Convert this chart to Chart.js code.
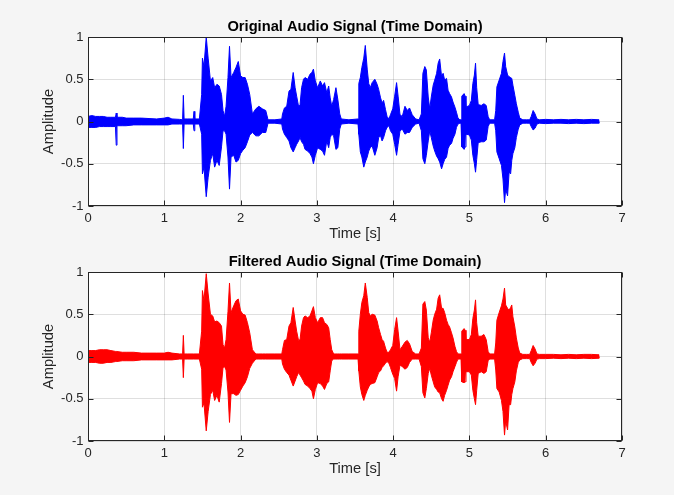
<!DOCTYPE html>
<html><head><meta charset="utf-8">
<script src="https://cdn.jsdelivr.net/npm/chart.js@4.4.1/dist/chart.umd.min.js"></script>
<style>
html,body{margin:0;padding:0;background:#f5f5f5;width:674px;height:495px;overflow:hidden}
canvas{position:absolute;left:0}
#c1{top:0}
#c2{top:235px}
</style></head><body>
<canvas id="c1" width="674" height="247"></canvas>
<canvas id="c2" width="674" height="247"></canvas>
<script>
// time points (s) at which the waveform envelope was read
const timeS = [
 0,0.05,0.1,0.15,0.2,0.25,0.3,0.36,0.37,0.38,0.45,0.5,0.6,0.7,0.8,0.9,1.0,1.05,1.1,1.2,1.24,1.25,1.26,1.3,1.38,1.39,1.40,1.46,
 1.49,1.50,1.52,1.55,1.575,1.605,1.635,1.66,1.69,1.72,1.75,1.77,1.79,1.81,1.835,1.855,1.875,1.91,1.94,1.97,2.0,2.03,2.06,2.09,2.12,2.155,2.2,2.24,2.285,2.33,2.36,
 2.45,2.54,2.55,2.575,2.605,2.635,2.66,2.69,2.715,2.735,2.76,2.78,2.80,2.825,2.845,2.88,2.91,2.935,2.955,2.98,3.01,3.045,3.075,3.10,3.13,3.155,3.175,3.195,3.22,3.25,3.275,3.30,3.32,
 3.42,3.54,3.55,3.57,3.59,3.615,3.635,3.66,3.68,3.70,3.725,3.76,3.79,3.81,3.835,3.855,3.875,3.90,3.92,3.945,3.965,3.995,4.02,4.045,4.065,4.09,4.12,4.155,4.185,4.215,4.25,4.295,4.34,
 4.37,4.39,4.415,4.435,4.46,4.48,4.50,4.525,4.545,4.57,4.59,4.61,4.635,4.655,4.675,4.70,4.72,4.74,4.765,4.785,4.81,4.83,4.85,4.875,
 4.89,4.90,4.93,4.945,4.955,5.0,5.025,5.045,5.065,5.08,5.095,5.115,5.155,5.19,5.22,5.245,5.265,
 5.33,5.345,5.36,5.39,5.42,5.44,5.46,5.475,5.50,5.52,5.54,5.555,5.57,5.595,5.615,5.64,5.66,
 5.70,5.75,5.79,5.81,5.835,5.86,5.885,5.92,6.0,6.1,6.2,6.3,6.4,6.5,6.6,6.7,6.71
];
// original signal: upper / lower envelope
const origUpper = [
 0.06,0.07,0.06,0.06,0.06,0.05,0.05,0.05,0.10,0.05,0.05,0.04,0.04,0.04,0.035,0.03,0.04,0.05,0.03,0.025,0.02,0.31,0.03,0.03,0.03,0.12,0.03,0.03,
 0.32,0.75,0.65,1.0,0.75,0.48,0.52,0.40,0.44,0.42,0.32,0.13,0.06,0.18,0.52,0.89,0.52,0.58,0.64,0.71,0.54,0.52,0.52,0.44,0.32,0.09,0.15,0.18,0.15,0.13,0.02,
 0.02,0.03,0.09,0.16,0.18,0.36,0.38,0.58,0.40,0.30,0.18,0.20,0.40,0.50,0.52,0.50,0.56,0.58,0.62,0.48,0.40,0.48,0.42,0.46,0.34,0.42,0.28,0.18,0.26,0.40,0.26,0.09,0.03,
 0.02,0.03,0.45,0.52,0.64,0.75,0.90,0.62,0.45,0.40,0.46,0.50,0.44,0.38,0.28,0.22,0.25,0.14,0.06,0.03,0.08,0.15,0.30,0.46,0.30,0.08,0.06,0.18,0.13,0.16,0.08,0.03,0.02,
 0.09,0.57,0.65,0.61,0.29,0.15,0.29,0.43,0.49,0.57,0.69,0.74,0.53,0.57,0.49,0.51,0.37,0.33,0.29,0.23,0.17,0.11,0.04,0.02,
 0.02,0.30,0.33,0.30,0.17,0.19,0.25,0.45,0.55,0.69,0.40,0.20,0.19,0.21,0.19,0.06,0.02,
 0.02,0.13,0.41,0.49,0.57,0.71,0.81,0.65,0.55,0.53,0.52,0.51,0.43,0.31,0.21,0.11,0.04,
 0.02,0.02,0.02,0.06,0.13,0.09,0.03,0.02,0.025,0.02,0.025,0.02,0.025,0.02,0.025,0.02,0.02
];
const origLower = [
 -0.07,-0.07,-0.07,-0.06,-0.06,-0.06,-0.06,-0.06,-0.28,-0.05,-0.05,-0.05,-0.04,-0.04,-0.04,-0.04,-0.04,-0.04,-0.03,-0.03,-0.03,-0.32,-0.03,-0.03,-0.03,-0.11,-0.03,-0.03,
 -0.15,-0.62,-0.54,-0.89,-0.66,-0.46,-0.38,-0.54,-0.46,-0.52,-0.30,-0.11,-0.11,-0.15,-0.42,-0.80,-0.42,-0.40,-0.48,-0.46,-0.38,-0.34,-0.31,-0.24,-0.16,-0.13,-0.17,-0.17,-0.13,-0.13,-0.02,
 -0.02,-0.03,-0.09,-0.15,-0.19,-0.23,-0.31,-0.36,-0.31,-0.27,-0.23,-0.19,-0.24,-0.27,-0.33,-0.35,-0.38,-0.42,-0.50,-0.40,-0.31,-0.33,-0.35,-0.40,-0.23,-0.31,-0.19,-0.15,-0.17,-0.33,-0.31,-0.09,-0.03,
 -0.02,-0.03,-0.15,-0.36,-0.42,-0.54,-0.48,-0.42,-0.35,-0.31,-0.29,-0.40,-0.31,-0.19,-0.17,-0.23,-0.19,-0.11,-0.07,-0.05,-0.11,-0.15,-0.27,-0.40,-0.27,-0.11,-0.09,-0.15,-0.13,-0.13,-0.07,-0.03,-0.02,
 -0.11,-0.44,-0.50,-0.40,-0.23,-0.11,-0.19,-0.29,-0.35,-0.41,-0.44,-0.48,-0.56,-0.50,-0.45,-0.42,-0.32,-0.28,-0.26,-0.20,-0.15,-0.07,-0.03,-0.02,
 -0.02,-0.30,-0.33,-0.30,-0.15,-0.16,-0.22,-0.40,-0.50,-0.60,-0.45,-0.25,-0.24,-0.24,-0.22,-0.06,-0.02,
 -0.02,-0.11,-0.36,-0.44,-0.52,-0.68,-0.96,-0.80,-0.88,-0.60,-0.62,-0.46,-0.38,-0.31,-0.19,-0.09,-0.04,
 -0.02,-0.02,-0.02,-0.06,-0.10,-0.08,-0.03,-0.02,-0.025,-0.02,-0.02,-0.025,-0.02,-0.025,-0.02,-0.02,-0.02
];
// filtered signal: upper / lower envelope
const filtUpper = [
 0.07,0.07,0.07,0.08,0.08,0.08,0.07,0.06,0.06,0.06,0.05,0.05,0.05,0.04,0.04,0.04,0.04,0.05,0.04,0.03,0.03,0.25,0.03,0.03,0.03,0.03,0.03,0.03,
 0.30,0.78,0.66,0.98,0.74,0.50,0.48,0.41,0.42,0.40,0.36,0.14,0.10,0.20,0.53,0.87,0.52,0.60,0.66,0.68,0.54,0.50,0.49,0.40,0.28,0.08,0.03,0.03,0.03,0.03,0.03,
 0.03,0.03,0.08,0.19,0.20,0.36,0.40,0.58,0.42,0.30,0.19,0.20,0.36,0.46,0.48,0.46,0.48,0.54,0.59,0.46,0.40,0.46,0.46,0.40,0.38,0.34,0.20,0.08,0.03,0.03,0.03,0.03,0.03,
 0.03,0.03,0.30,0.50,0.64,0.72,0.87,0.70,0.52,0.48,0.50,0.49,0.42,0.34,0.26,0.20,0.18,0.10,0.05,0.05,0.08,0.13,0.32,0.46,0.30,0.08,0.12,0.17,0.19,0.15,0.06,0.03,0.03,
 0.10,0.62,0.65,0.55,0.22,0.17,0.28,0.43,0.50,0.56,0.69,0.73,0.57,0.57,0.52,0.43,0.38,0.35,0.28,0.22,0.12,0.06,0.03,0.03,
 0.03,0.30,0.33,0.31,0.20,0.20,0.26,0.45,0.55,0.67,0.40,0.24,0.24,0.26,0.20,0.06,0.03,
 0.03,0.16,0.43,0.52,0.60,0.68,0.81,0.61,0.57,0.55,0.58,0.61,0.47,0.35,0.22,0.10,0.04,
 0.025,0.025,0.025,0.07,0.13,0.09,0.03,0.025,0.025,0.025,0.02,0.025,0.02,0.025,0.025,0.02,0.02
];
const filtLower = [
 -0.07,-0.07,-0.07,-0.08,-0.08,-0.07,-0.07,-0.06,-0.06,-0.06,-0.05,-0.05,-0.05,-0.04,-0.04,-0.04,-0.04,-0.04,-0.04,-0.03,-0.03,-0.25,-0.03,-0.03,-0.03,-0.03,-0.03,-0.03,
 -0.15,-0.60,-0.55,-0.88,-0.65,-0.45,-0.40,-0.52,-0.46,-0.54,-0.32,-0.13,-0.12,-0.16,-0.42,-0.78,-0.44,-0.44,-0.46,-0.45,-0.40,-0.35,-0.31,-0.24,-0.14,-0.08,-0.03,-0.03,-0.03,-0.03,-0.03,
 -0.03,-0.03,-0.09,-0.15,-0.19,-0.22,-0.28,-0.35,-0.29,-0.24,-0.19,-0.22,-0.25,-0.29,-0.33,-0.35,-0.38,-0.41,-0.50,-0.39,-0.31,-0.32,-0.35,-0.39,-0.32,-0.30,-0.17,-0.05,-0.03,-0.03,-0.03,-0.03,-0.03,
 -0.03,-0.03,-0.17,-0.36,-0.45,-0.52,-0.46,-0.40,-0.36,-0.33,-0.32,-0.31,-0.24,-0.19,-0.17,-0.13,-0.11,-0.08,-0.06,-0.08,-0.13,-0.21,-0.26,-0.41,-0.24,-0.10,-0.12,-0.15,-0.13,-0.07,-0.03,-0.03,-0.03,
 -0.12,-0.43,-0.49,-0.38,-0.20,-0.14,-0.22,-0.30,-0.36,-0.39,-0.42,-0.43,-0.50,-0.53,-0.46,-0.40,-0.34,-0.28,-0.24,-0.18,-0.12,-0.07,-0.03,-0.03,
 -0.03,-0.30,-0.31,-0.30,-0.18,-0.18,-0.22,-0.40,-0.50,-0.57,-0.40,-0.20,-0.18,-0.20,-0.18,-0.05,-0.03,
 -0.03,-0.16,-0.38,-0.42,-0.52,-0.65,-0.93,-0.76,-0.87,-0.57,-0.57,-0.45,-0.38,-0.30,-0.17,-0.07,-0.04,
 -0.025,-0.025,-0.025,-0.07,-0.11,-0.08,-0.03,-0.025,-0.025,-0.02,-0.025,-0.02,-0.025,-0.02,-0.025,-0.02,-0.02
];
const xTickValues = [0,1,2,3,4,5,6,7];
const xTickLabels = ['0','1','2','3','4','5','6','7'];
const yTickValues = [-1,-0.5,0,0.5,1];
const yTickLabels = ['-1','-0.5','0','0.5','1'];
const titles = ['Original Audio Signal (Time Domain)','Filtered Audio Signal (Time Domain)'];
const xLabel = 'Time [s]';
const yLabel = 'Amplitude';

const FONT = '"Liberation Sans", Arial, Helvetica, sans-serif';
const AX = '#262626';

function pts(vals){
  const n = Math.min(timeS.length, vals.length), a = [];
  for (let i = 0; i < n; i++) a.push({x: timeS[i], y: vals[i]});
  return a;
}

const framePlugin = {
  id: 'frame',
  beforeDraw(chart){
    const {ctx, chartArea: ca} = chart;
    ctx.save(); ctx.fillStyle = '#fff';
    ctx.fillRect(ca.left, ca.top, ca.right - ca.left, ca.bottom - ca.top);
    ctx.restore();
  },
  afterDraw(chart, args, opts){
    const {ctx, chartArea: ca, scales} = chart;
    ctx.save();
    ctx.strokeStyle = AX; ctx.lineWidth = 1;
    const L = Math.round(ca.left) + 0.5, R = Math.round(ca.right) - 0.5;
    const T = Math.round(ca.top) + 0.5, B = Math.round(ca.bottom) - 0.5;
    ctx.strokeRect(L, T, R - L, B - T);
    const tl = 5;
    ctx.beginPath();
    xTickValues.forEach(v => {
      const px = Math.round(scales.x.getPixelForValue(v)) + 0.5;
      ctx.moveTo(px, B); ctx.lineTo(px, B - tl);
      ctx.moveTo(px, T); ctx.lineTo(px, T + tl);
    });
    yTickValues.forEach(v => {
      const py = Math.round(scales.y.getPixelForValue(v)) + 0.5;
      ctx.moveTo(L, py); ctx.lineTo(L + tl, py);
      ctx.moveTo(R, py); ctx.lineTo(R - tl, py);
    });
    ctx.stroke();
    ctx.fillStyle = '#000';
    ctx.font = 'bold 14.7px ' + FONT;
    ctx.textAlign = 'center'; ctx.textBaseline = 'alphabetic';
    ctx.fillText(opts.text, (ca.left + ca.right) / 2, ca.top - 6);
    ctx.restore();
  }
};

function makeChart(id, title, up, lo, color){
  const grid = {color: 'rgba(38,38,38,0.15)', drawTicks: false, lineWidth: 1};
  new Chart(document.getElementById(id), {
    type: 'line',
    data: {datasets: [
      {data: pts(up), borderColor: color, backgroundColor: color, borderWidth: 1, pointRadius: 0, fill: '+1', tension: 0},
      {data: pts(lo), borderColor: color, backgroundColor: color, borderWidth: 1, pointRadius: 0, fill: false, tension: 0}
    ]},
    options: {
      responsive: false, animation: false, devicePixelRatio: 1,
      layout: {padding: {left: 0, right: 52, top: 37, bottom: 0}},
      plugins: {legend: {display: false}, tooltip: {enabled: false}, title: {display: false}, frame: {text: title}},
      scales: {
        x: {
          type: 'linear', min: 0, max: 7,
          afterBuildTicks(s){ s.ticks = xTickValues.map(v => ({value: v})); },
          afterFit(s){ s.height = 41; },
          grid: grid, border: {display: false},
          ticks: {padding: 5, color: AX, font: {family: FONT, size: 13}, maxRotation: 0, autoSkip: false,
            callback: v => { const i = xTickValues.indexOf(v); return i >= 0 ? xTickLabels[i] : ''; }},
          title: {display: true, text: xLabel, color: AX, font: {family: FONT, size: 14.7}, padding: {top: 0, bottom: 4}}
        },
        y: {
          type: 'linear', min: -1, max: 1,
          afterBuildTicks(s){ s.ticks = yTickValues.map(v => ({value: v})); },
          afterFit(s){ s.width = 88; },
          grid: grid, border: {display: false},
          ticks: {padding: 4.5, color: AX, font: {family: FONT, size: 13}, autoSkip: false,
            callback: v => { const i = yTickValues.indexOf(v); return i >= 0 ? yTickLabels[i] : ''; }},
          title: {display: true, text: yLabel, color: AX, font: {family: FONT, size: 14.7}, padding: {top: 40, bottom: 0}}
        }
      }
    },
    plugins: [framePlugin]
  });
}

makeChart('c1', titles[0], origUpper, origLower, '#0000ff');
makeChart('c2', titles[1], filtUpper, filtLower, '#ff0000');
</script>
</body></html>
